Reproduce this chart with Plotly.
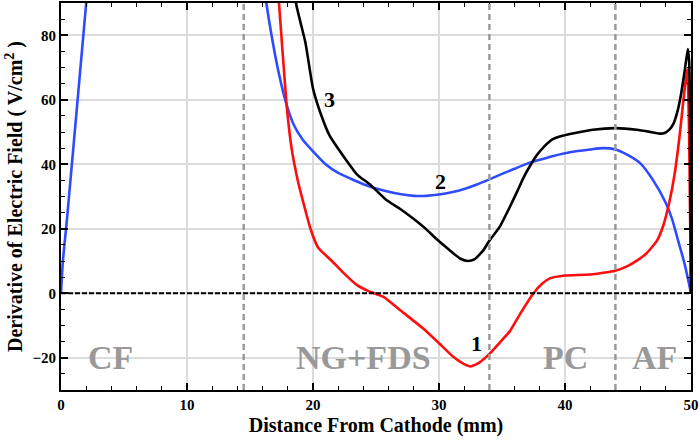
import plotly.graph_objects as go

# ---- data ----
x_blue = [0, 0.15, 0.45, 1.0, 1.5, 2.0, 2.6, 15.6, 16.3, 16.8, 17.3, 17.9, 18.5, 19.2, 20.0, 21.0,
          22.0, 23.0, 24.0, 25.0, 26.0, 27.0, 28.0, 29.0, 30.0, 31.0, 32.0, 33.0, 34.0, 35.0,
          36.0, 37.0, 38.0, 39.0, 40.0, 41.0, 42.0, 43.0, 44.0, 45.0, 46.0, 47.0, 48.0, 48.5,
          49.0, 49.5, 50.0]
y_blue = [0, 10, 22, 46, 68, 90, 118, 112, 90, 78, 68, 58.5, 52, 47.5, 44, 40,
          37.3, 35.5, 33.8, 32.5, 31.5, 30.7, 30.2, 30.2, 30.6, 31.3, 32.3, 33.7, 35.3, 37,
          38.6, 40.2, 41.4, 42.5, 43.4, 44.1, 44.6, 45, 44.6, 42.8, 40.2, 35, 28, 23,
          16, 9, 0]

x_red = [16.2, 17.3, 17.9, 18.3, 18.8, 19.2, 19.8, 20.4, 21.5, 22.5, 23.5, 24.5, 25.6, 27.0,
         28.7, 30.0, 31.1, 32.0, 32.5, 33.2, 34.0, 35.0, 35.6, 36.5, 37.5, 38.2, 38.8, 40.0,
         42.0, 44.0, 45.0, 45.7, 46.5, 47.3, 47.8, 48.3, 48.7, 49.1, 49.4, 49.7, 49.85, 50.0]
y_red = [140, 90, 58.5, 45, 34.8, 28.6, 20, 14.2, 10, 6, 2.5, 0.5, -1.1, -5.5,
         -10.8, -15.5, -19.6, -22, -22.7, -21.5, -18.8, -14.5, -11.9, -6, 0, 3, 4.6, 5.5,
         5.8, 7, 8.5, 10.1, 12.5, 16.3, 21, 28.6, 37, 49, 60, 69.6, 50, 0]

x_black = [17.5, 18.65, 19.4, 20.0, 20.6, 21.3, 22.5, 23.5, 24.5, 25.8, 26.9, 28.0, 29.0, 29.8,
           30.8, 31.7, 32.3, 32.8, 33.5, 34.0, 34.8, 35.6, 36.2, 36.7, 37.3, 37.8, 38.4, 39.0,
           39.8, 40.7, 42.2, 44.0, 45.7, 46.8, 47.5, 47.9, 48.3, 48.6, 48.9, 49.2, 49.5, 49.75,
           49.85, 49.93, 50.0]
y_black = [130, 90, 77.7, 63.5, 55.8, 49, 42, 36.8, 33.8, 29, 26.2, 23, 19.8, 16.8,
           13.5, 10.7, 10, 10.5, 13.2, 16.3, 20.5, 26.6, 31.5, 35.8, 40, 43, 45.7, 47.7,
           48.8, 49.6, 50.7, 51.2, 50.7, 50, 49.5, 49.7, 50.8, 52.5, 56, 61.5, 69, 75.7,
           72, 55, 0]

region_bounds = [14.5, 34, 44]
region_names = ["CF", "NG+FDS", "PC", "AF"]
region_label_x = [3.9, 24.0, 40.0, 47.1]
region_label_y = [-20, -20, -20, -20]

curve_names = ["1", "2", "3"]
curve_label_x = [33.0, 30.1, 21.3]
curve_label_y = [-15.5, 34.8, 60]

x_ticks = [0, 10, 20, 30, 40, 50]
y_ticks = [-20, 0, 20, 40, 60, 80]

FONT = "Liberation Serif"

fig = go.Figure()
fig.add_trace(go.Scatter(x=x_blue, y=y_blue, mode="lines",
                         line=dict(color="#2f4bff", width=2.6, shape="spline", smoothing=0.6),
                         showlegend=False))
fig.add_trace(go.Scatter(x=x_red, y=y_red, mode="lines",
                         line=dict(color="#ff0d0d", width=2.6, shape="spline", smoothing=0.5),
                         showlegend=False))
fig.add_trace(go.Scatter(x=x_black, y=y_black, mode="lines",
                         line=dict(color="black", width=2.6, shape="spline", smoothing=0.5),
                         showlegend=False))

# zero line (dashed black)
fig.add_shape(type="line", xref="paper", x0=0, x1=1, yref="y", y0=0, y1=0,
              line=dict(color="black", width=2.2, dash="5px,2px"))
# region boundaries
for xb in region_bounds:
    fig.add_shape(type="line", xref="x", x0=xb, x1=xb, yref="paper", y0=0, y1=1,
                  line=dict(color="#9a9a9a", width=2.5, dash="6px,4px"))

for name, xx, yy in zip(region_names, region_label_x, region_label_y):
    fig.add_annotation(x=xx, y=yy, text=name, showarrow=False,
                       font=dict(family=FONT, size=34, color="#999999", weight="bold"))
for name, xx, yy in zip(curve_names, curve_label_x, curve_label_y):
    fig.add_annotation(x=xx, y=yy, text=name, showarrow=False,
                       font=dict(family=FONT, size=22, color="black", weight="bold"))

axis_common = dict(
    showline=True, linecolor="black", linewidth=2, mirror="ticks",
    ticks="inside", ticklen=7, tickwidth=1.5, tickcolor="black",
    showgrid=True, gridcolor="#dcdcdc", gridwidth=1.5, zeroline=False,
    tickfont=dict(family=FONT, size=15, color="black", weight="bold"),
)

fig.update_xaxes(range=[0, 50], tickvals=x_ticks,
                 minor=dict(dtick=2, tick0=0, ticks="inside", ticklen=4, tickwidth=1.2,
                            tickcolor="black", showgrid=False),
                 title=dict(text="Distance From Cathode (mm)", standoff=6,
                            font=dict(family=FONT, size=20, color="black", weight="bold")),
                 **axis_common)
fig.update_yaxes(range=[-30, 90], tickvals=y_ticks,
                 minor=dict(dtick=5, tick0=0, ticks="inside", ticklen=4, tickwidth=1.2,
                            tickcolor="black", showgrid=False),
                 title=dict(text="Derivative of Electric Field ( V/cm<sup>2</sup> )", standoff=4,
                            font=dict(family=FONT, size=20, color="black", weight="bold")),
                 **axis_common)

fig.update_layout(width=700, height=444, margin=dict(l=61, r=9, t=1, b=54),
                  plot_bgcolor="white", paper_bgcolor="white")

fig.write_html("out.html")
